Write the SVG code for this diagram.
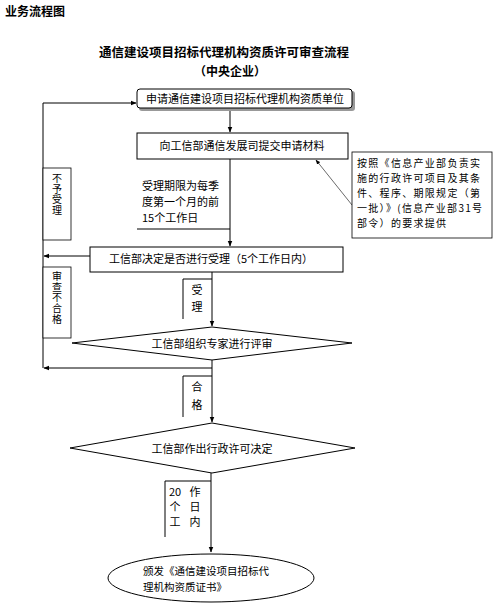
<svg xmlns="http://www.w3.org/2000/svg" width="500" height="606" viewBox="0 0 500 606">
<defs>
<style>
text{font-family:"Noto Sans CJK SC","Noto Sans CJK JP",sans-serif;fill:#000;}
.t{font-size:11px;}
.n{font-size:10px;letter-spacing:1.3px;}
.v{font-size:10px;writing-mode:vertical-rl;letter-spacing:0.8px;}
.c{text-anchor:middle;}
.b{fill:#fff;stroke:#000;stroke-width:1;}
.l{fill:none;stroke:#000;stroke-width:1;}
.lb{fill:#fff;stroke:#000;stroke-width:0.8;}
</style>
<marker id="ar" viewBox="0 0 10 10" refX="9" refY="5" markerWidth="6" markerHeight="6" orient="auto">
<path d="M0,1 L10,5 L0,9 z" fill="#000"/>
</marker>
</defs>
<rect width="500" height="606" fill="#fff"/>
<text x="5" y="16" style="font-size:12px;font-weight:bold">业务流程图</text>
<text x="224" y="57" class="c" style="font-size:12.5px;font-weight:bold">通信建设项目招标代理机构资质许可审查流程</text>
<text x="230" y="76" class="c" style="font-size:12px;font-weight:bold">（中央企业）</text>

<g id="connectors">
<line x1="43" y1="103" x2="43" y2="368" class="l"/>
<line x1="43" y1="103" x2="136" y2="103" class="l" marker-end="url(#ar)"/>
<line x1="230" y1="109" x2="230" y2="132" class="l" marker-end="url(#ar)"/>
<line x1="230" y1="159" x2="230" y2="246" class="l" marker-end="url(#ar)"/>
<line x1="352" y1="205" x2="316" y2="160" stroke="#444" stroke-width="0.8" marker-end="url(#ar)"/>
<line x1="90" y1="256" x2="44" y2="256" class="l" marker-end="url(#ar)"/>
<line x1="212" y1="272" x2="212" y2="326" class="l" marker-end="url(#ar)"/>
<line x1="212" y1="360" x2="212" y2="422" class="l" marker-end="url(#ar)"/>
<line x1="212" y1="368" x2="44" y2="368" class="l" marker-end="url(#ar)"/>
<line x1="211" y1="473" x2="211" y2="552" class="l" marker-end="url(#ar)"/>
</g>

<g id="n1">
<rect x="139" y="91" width="216" height="20" rx="3" fill="#999"/>
<rect x="137" y="89" width="215" height="19" rx="3" class="b"/>
<text x="245" y="103" class="t c">申请通信建设项目招标代理机构资质单位</text>
</g>

<g id="n2">
<rect x="137" y="133" width="211" height="26" class="b"/>
<text x="242" y="150" class="t c">向工信部通信发展司提交申请材料</text>
</g>

<g id="lbl-period">
<line x1="137" y1="229" x2="230" y2="229" class="l" stroke-width="0.8"/>
<text x="142" y="190" class="t">受理期限为每季</text>
<text x="142" y="206" class="t">度第一个月的前</text>
<text x="142" y="222" class="t">15个工作日</text>
</g>

<g id="note">
<rect x="352" y="152" width="140" height="86" class="lb"/>
<text x="357" y="167" class="n">按照《信息产业部负责实</text>
<text x="357" y="182" class="n">施的行政许可项目及其条</text>
<text x="357" y="197" class="n">件、程序、期限规定（第</text>
<text x="357" y="212" class="n">一批）》(信息产业部31号</text>
<text x="357" y="227" class="n">部令）的要求提供</text>
</g>

<g id="lbl-reject1">
<rect x="43" y="168" width="28" height="72" class="lb"/>
<text x="57" y="173" class="v">不予受理</text>
</g>

<g id="n3">
<rect x="90" y="247" width="253" height="25" class="b"/>
<text x="211" y="263" class="t c">工信部决定是否进行受理（5个工作日内）</text>
</g>

<g id="lbl-reject2">
<rect x="43" y="267" width="28" height="71" class="lb"/>
<text x="57" y="271" class="v">审查不合格</text>
</g>

<g id="lbl-accept">
<polyline points="183,319 183,279 212,279" class="l" stroke-width="0.8"/>
<text class="t c"><tspan x="197" y="294">受</tspan><tspan x="197" y="311">理</tspan></text>
</g>

<g id="d1">
<polygon points="212,327 352,343 212,360 72,343" class="b"/>
<text x="212" y="348" class="t c">工信部组织专家进行评审</text>
</g>

<g id="lbl-pass">
<polyline points="183,417 183,376 212,376" class="l" stroke-width="0.8"/>
<text class="t c"><tspan x="197" y="391">合</tspan><tspan x="197" y="409">格</tspan></text>
</g>

<g id="d2">
<polygon points="212,423 355,448 212,473 70,448" class="b"/>
<text x="212" y="453" class="t c">工信部作出行政许可决定</text>
</g>

<g id="lbl-days">
<polyline points="165,537 165,481 211,481" class="l" stroke-width="0.8"/>
<text class="t c"><tspan x="175" y="496">20</tspan><tspan x="175" y="511">个</tspan><tspan x="175" y="526">工</tspan><tspan x="195" y="496">作</tspan><tspan x="195" y="511">日</tspan><tspan x="195" y="526">内</tspan></text>
</g>

<g id="n-end">
<ellipse cx="211" cy="578" rx="103" ry="24" class="b"/>
<text x="143" y="575" style="font-size:10.5px">颁发《通信建设项目招标代</text>
<text x="143" y="591" style="font-size:10.5px">理机构资质证书》</text>
</g>
</svg>
